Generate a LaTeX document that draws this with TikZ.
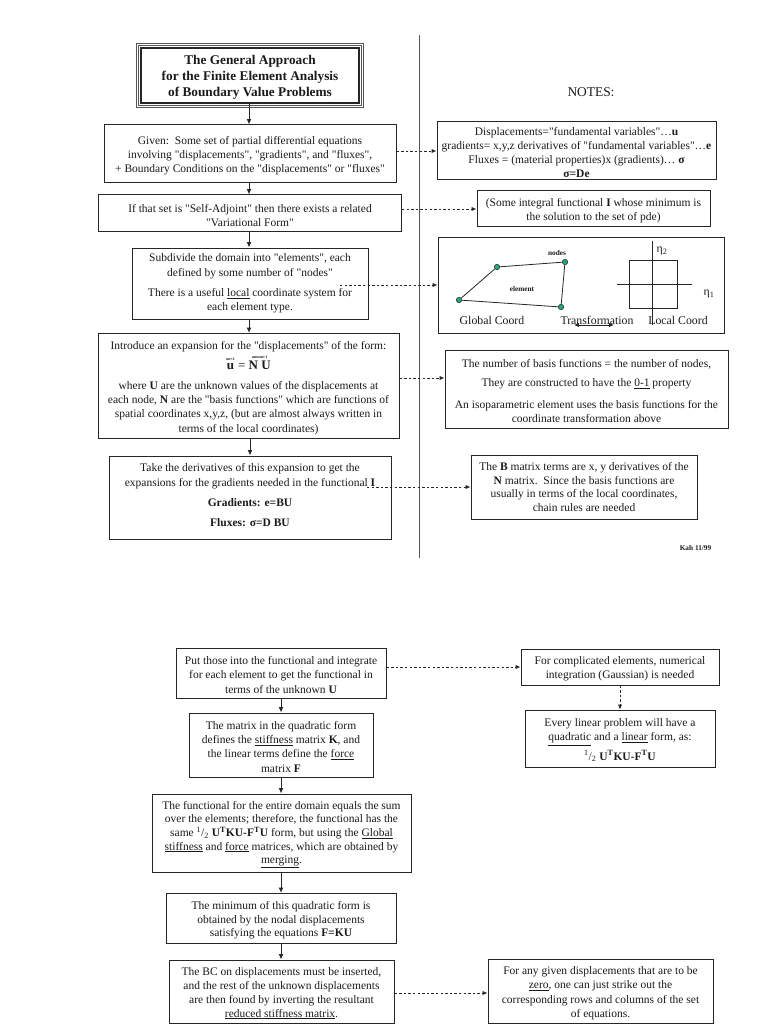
\documentclass[tikz,border=0pt]{standalone}
\usepackage{fontspec}
\setmainfont[Ligatures=TeXOff]{Liberation Serif}
\usetikzlibrary{calc,arrows.meta}
\definecolor{FEInk}{HTML}{1A1A1A}
\definecolor{FELine}{HTML}{262626}
\definecolor{FERule}{HTML}{555555}
\definecolor{FEGreen}{HTML}{1FA97A}
\tikzset{
  flowBox/.style={rectangle, draw=FELine, line width=1pt, inner sep=0pt, align=center, text=FEInk, font=\fontsize{11.5pt}{14.3pt}\selectfont},
  noteText/.style={inner sep=0pt, text=FEInk, font=\fontsize{11.8pt}{13pt}\selectfont},
  tinyText/.style={inner sep=0pt, text=FEInk, font=\fontsize{7.3pt}{8pt}\selectfont\bfseries},
  meshNode/.style={circle, draw=FELine, fill=FEGreen, line width=0.5pt, minimum size=5.5pt, inner sep=0pt},
  flow/.style={-{Latex[length=1.9mm,width=1.7mm]}, draw=FELine, line width=1pt},
  noteFlow/.style={-{Latex[length=1.7mm,width=1.5mm]}, draw=FELine, dash pattern=on 2.4pt off 2.2pt, line width=0.8pt},
  meshEdge/.style={draw=FELine, line width=0.8pt}
}
\newcommand{\halfForm}{\textsuperscript{1}/\textsubscript{2} \textbf{U\textsuperscript{T}KU-F\textsuperscript{T}U}}
\newcommand{\sizeTag}[2]{\shortstack{{\fontsize{4pt}{4pt}\selectfont\bfseries #1}\\\textbf{#2}}}
\newcommand{\lead}{\rule{0pt}{11.5pt}}
\begin{document}
\begin{tikzpicture}[x=1pt, y=-1pt]
  \useasboundingbox (0,0) rectangle (768,1024);

  % Titel
  \node[flowBox, line width=1.4pt, minimum width=218pt, minimum height=55pt, font=\fontsize{13.3pt}{16pt}\selectfont\bfseries] (title) at (250,75.5)
    {\rule{0pt}{13pt}The General Approach\\for the Finite Element Analysis\\of Boundary Value Problems};
  \draw[FERule, double=white, double distance=0.8pt, line width=1pt] ($(title.north west)+(-2.6,-2.6)$) rectangle ($(title.south east)+(2.6,2.6)$);

  % Linke Spalte oben
  \node[flowBox, minimum width=292pt, minimum height=58pt] (given) at (250,154)
    {\lead Given:\ \ Some set of partial differential equations\\involving "displacements", "gradients", and "fluxes",\\+ Boundary Conditions on the "displacements" or "fluxes"};
  \node[flowBox, minimum width=303pt, minimum height=37pt] (adjoint) at (250,213.5)
    {\lead If that set is "Self-Adjoint" then there exists a related\\"Variational Form"};
  \node[flowBox, minimum width=236pt, minimum height=71pt] (subdiv) at (250,283.5)
    {Subdivide the domain into "elements", each\\defined by some number of "nodes"\\[6pt]There is a useful \underline{local} coordinate system for\\each element type.};
  \node[flowBox, minimum width=301pt, minimum height=105pt] (expand) at (248.5,386)
    {\lead Introduce an expansion for the "displacements" of the form:\\[3pt]
     {\fontsize{13pt}{14pt}\selectfont\sizeTag{øn×1}{u} = \sizeTag{ønnnn×1}{N U}}\\[5pt]
     where \textbf{U} are the unknown values of the displacements at\\
     each node, \textbf{N} are the "basis functions" which are functions of\\
     spatial coordinates x,y,z, (but are almost always written in\\
     terms of the local coordinates)};
  \node[flowBox, minimum width=282pt, minimum height=83pt] (deriv) at (250,497.5)
    {Take the derivatives of this expansion to get the\\expansions for the gradients needed in the functional \textbf{I}\\[6pt]
     \textbf{Gradients: e=BU}\\[6pt]\textbf{Fluxes: σ=D BU}\\[-10pt]~};

  % Trennlinie und Kopf
  \coordinate (ruleTop) at (419,35);
  \coordinate (ruleEnd) at (419,558);
  \draw[FERule, line width=0.8pt] (ruleTop) -- (ruleEnd);
  \node[noteText, font=\fontsize{13.4pt}{15pt}\selectfont] (notes) at (591,92) {NOTES:};

  % Rechte Spalte oben
  \node[flowBox, minimum width=279pt, minimum height=58pt, font=\fontsize{11.5pt}{14pt}\selectfont] (disp) at (576.5,151)
    {\lead Displacements="fundamental variables"\dots\textbf{u}\\gradients= x,y,z derivatives of "fundamental variables"\dots\textbf{e}\\Fluxes = (material properties)x (gradients)\dots\ \textbf{σ}\\\textbf{σ=De}};
  \node[flowBox, minimum width=233pt, minimum height=36pt] (integral) at (593.5,209)
    {\lead (Some integral functional \textbf{I} whose minimum is\\the solution to the set of pde)};
  \node[flowBox, minimum width=286pt, minimum height=96pt] (meshbox) at (581,285) {};
  \node[flowBox, minimum width=283pt, minimum height=78pt, font=\fontsize{11.5pt}{13.4pt}\selectfont] (basis) at (586.5,389)
    {\lead The number of basis functions = the number of nodes,\\[6.5pt]They are constructed to have the \underline{0-1} property\\[8.5pt]An isoparametric element uses the basis functions for the\\coordinate transformation above};
  \node[flowBox, minimum width=226pt, minimum height=64pt, font=\fontsize{11.5pt}{13.7pt}\selectfont] (bmat) at (584,487)
    {The \textbf{B} matrix terms are x, y derivatives of the\\\textbf{N} matrix.\ \ Since the basis functions are\\usually in terms of the local coordinates,\\chain rules are needed};
  \node[tinyText] (stamp) at (695.5,548) {Kah 11/99};

  % Element und lokale Koordinaten
  \node[meshNode] (n1) at (459,300) {};
  \node[meshNode] (n2) at (497,267) {};
  \node[meshNode] (n3) at (565,262) {};
  \node[meshNode] (n4) at (561,307) {};
  \foreach \i/\j in {n1/n2, n2/n3, n3/n4, n4/n1}
    \draw[meshEdge] (\i) -- (\j);
  \node[tinyText] (nodesLbl) at (557,253) {nodes};
  \node[tinyText] (elemLbl) at (522,289) {element};
  \node[rectangle, draw=FELine, line width=0.8pt, minimum size=48pt, inner sep=0pt] (square) at (653,284.5) {};
  \coordinate (hLeft) at (617,284);
  \coordinate (hRight) at (692,284);
  \coordinate (vTop) at (652,241);
  \coordinate (vEnd) at (652,325);
  \draw[meshEdge] (hLeft) -- (hRight);
  \draw[meshEdge] (vTop) -- (vEnd);
  \node[noteText] (eta2) at (662,251) {η\textsubscript{2}};
  \node[noteText] (eta1) at (709,294) {η\textsubscript{1}};
  \node[noteText] (globalLbl) at (492,320) {Global Coord};
  \node[noteText] (transLbl) at (597,320) {Transformation};
  \node[noteText] (localLbl) at (678,320) {Local Coord};
  \coordinate (transL) at (574,325);
  \coordinate (transR) at (614,325);
  \draw[{Latex[length=1.7mm,width=1.5mm]}-{Latex[length=1.7mm,width=1.5mm]}, draw=FELine, line width=0.8pt] (transL) -- (transR);

  % Linke Spalte unten
  \node[flowBox, minimum width=210pt, minimum height=50pt] (put) at (281,673)
    {\lead Put those into the functional and integrate\\for each element to get the functional in\\terms of the unknown \textbf{U}};
  \node[flowBox, minimum width=184pt, minimum height=64pt] (quad) at (281,745)
    {\lead The matrix in the quadratic form\\defines the \underline{stiffness} matrix \textbf{K}, and\\the linear terms define the \underline{force}\\matrix \textbf{F}};
  \node[flowBox, minimum width=259pt, minimum height=78pt, font=\fontsize{11.5pt}{13.6pt}\selectfont] (whole) at (281.5,833)
    {\lead The functional for the entire domain equals the sum\\over the elements; therefore, the functional has the\\same \halfForm{} form, but using the \underline{Global}\\\underline{stiffness} and \underline{force} matrices, which are obtained by\\\underline{merging}.};
  \node[flowBox, minimum width=230pt, minimum height=50pt, font=\fontsize{11.5pt}{13.6pt}\selectfont] (minim) at (281,918.5)
    {\lead The minimum of this quadratic form is\\obtained by the nodal displacements\\satisfying the equations \textbf{F=KU}};
  \node[flowBox, minimum width=225pt, minimum height=63pt, font=\fontsize{11.5pt}{13.9pt}\selectfont] (bc) at (281.5,991.5)
    {\lead The BC on displacements must be inserted,\\and the rest of the unknown displacements\\are then found by inverting the resultant\\\underline{reduced stiffness matrix}.};

  % Rechte Spalte unten
  \node[flowBox, minimum width=198pt, minimum height=36pt] (gauss) at (620,667)
    {\lead For complicated elements, numerical\\integration (Gaussian) is needed};
  \node[flowBox, minimum width=190pt, minimum height=57pt] (linear) at (620,738.5)
    {\lead Every linear problem will have a\\\underline{quadratic} and a \underline{linear} form, as:\\[5pt]\halfForm};
  \node[flowBox, minimum width=225pt, minimum height=64pt] (zero) at (600.5,991.5)
    {\lead For any given displacements that are to be\\\underline{zero}, one can just strike out the\\corresponding rows and columns of the set\\of equations.};

  % Pfeile
  \coordinate (upperAxis) at (249,0);
  \coordinate (lowerAxis) at (281,0);
  \foreach \i/\j in {title/given, given/adjoint, adjoint/subdiv, subdiv/expand}
    \draw[flow] (\i.south -| upperAxis) -- (\j.north -| upperAxis);
  \draw[flow] (expand.south -| deriv.north) -- (deriv.north);
  \foreach \i/\j in {put/quad, quad/whole, whole/minim, minim/bc}
    \draw[flow] (\i.south -| lowerAxis) -- (\j.north -| lowerAxis);

  % Gestrichelte Pfeile
  \coordinate (subdivOut) at (340,285);
  \coordinate (derivOut) at (367,487);
  \draw[noteFlow] (given.east |- disp.west) -- (disp.west);
  \draw[noteFlow] (adjoint.east |- integral.west) -- (integral.west);
  \draw[noteFlow] (subdivOut) -- (subdivOut -| meshbox.west);
  \draw[noteFlow] (expand.east |- 0,378) -- (basis.west |- 0,378);
  \draw[noteFlow] (derivOut) -- (derivOut -| bmat.west);
  \draw[noteFlow] (put.east |- gauss.west) -- (gauss.west);
  \draw[noteFlow] (gauss.south -| linear.north) -- (linear.north);
  \draw[noteFlow] (bc.east |- 0,993) -- (zero.west |- 0,993);
\end{tikzpicture}
\end{document}
